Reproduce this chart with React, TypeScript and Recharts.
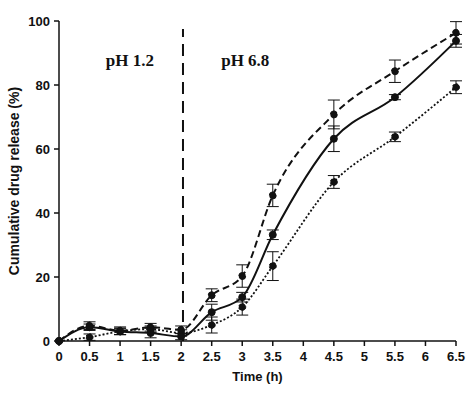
import React from 'react'
import {
  LineChart,
  Line,
  XAxis,
  YAxis,
  ErrorBar,
  ReferenceLine,
  ReferenceDot,
} from 'recharts'

const times = [0, 0.5, 1, 1.5, 2, 2.5, 3, 3.5, 4.5, 5.5, 6.5]
const xTicks = [0, 0.5, 1, 1.5, 2, 2.5, 3, 3.5, 4, 4.5, 5, 5.5, 6, 6.5]
const yTicks = [0, 20, 40, 60, 80, 100]

// dashed series (top)
const dashedVals = [0, 4.8, 3.2, 4.3, 3.5, 14.3, 20.3, 45.5, 70.8, 84.3, 96.3]
const dashedErr = [0, 1.2, 1.2, 1.2, 1.2, 2, 3.5, 3.5, 4.5, 3.5, 3.5]
// solid series (middle)
const solidVals = [0, 4.3, 3, 2.5, 1.4, 9, 13.7, 33.2, 63.2, 76.2, 93.8]
const solidErr = [0, 1, 1, 1.5, 1, 2.5, 1.5, 1.5, 4, 0.8, 2]
// dotted series (bottom)
const dottedVals = [0, 1.2, 3, 3.7, 2.5, 5, 10.6, 23.4, 49.7, 63.8, 79.3]
const dottedErr = [0, 1, 1, 1, 1, 2.5, 2.5, 4.5, 2, 1.5, 2]

const build = (vals: number[], errs: number[]) =>
  times.map((t, i) => ({ t, v: vals[i], e: errs[i] }))

const dashedData = build(dashedVals, dashedErr)
const solidData = build(solidVals, solidErr)
const dottedData = build(dottedVals, dottedErr)

const ink = '#111'
const tickStyle = { fill: ink, fontSize: 13, fontWeight: 700, fontFamily: 'Liberation Sans, Arial, sans-serif' }
const phStyle = { fill: ink, fontSize: 17, fontWeight: 700, fontFamily: 'Liberation Serif, DejaVu Serif, serif' }
const dot = { r: 3.5, fill: ink, stroke: ink, strokeWidth: 1 }

export default function App() {
  return (
    <div style={{ position: 'absolute', left: 0, top: 0, background: '#fff' }}>
      <LineChart
        width={474}
        height={395}
        margin={{ top: 21, right: 18, bottom: 10, left: 0 }}
      >
        <XAxis
          dataKey="t"
          type="number"
          domain={[0, 6.5]}
          ticks={xTicks}
          interval={0}
          allowDuplicatedCategory={false}
          height={44}
          stroke={ink}
          strokeWidth={1.5}
          tickSize={5}
          tick={tickStyle}
          tickMargin={6}
          label={{
            value: 'Time (h)',
            position: 'insideBottom',
            offset: 4,
            style: { ...tickStyle, fontSize: 13 },
          }}
        />
        <YAxis
          type="number"
          domain={[0, 100]}
          ticks={yTicks}
          width={59}
          stroke={ink}
          strokeWidth={1.5}
          tickSize={5}
          tick={tickStyle}
          tickMargin={4}
          label={{
            value: 'Cumulative drug release (%)',
            angle: -90,
            position: 'insideLeft',
            offset: 14,
            style: { ...tickStyle, fontSize: 14, textAnchor: 'middle' },
          }}
        />
        <ReferenceLine
          segment={[
            { x: 2.03, y: 0 },
            { x: 2.03, y: 97.5 },
          ]}
          stroke={ink}
          strokeWidth={2}
          strokeDasharray="12 7"
        />
        <ReferenceDot
          x={1.16}
          y={87.8}
          r={0}
          stroke="none"
          fill="none"
          label={{ value: 'pH 1.2', position: 'center', style: phStyle }}
        />
        <ReferenceDot
          x={3.05}
          y={87.8}
          r={0}
          stroke="none"
          fill="none"
          label={{ value: 'pH 6.8', position: 'center', style: phStyle }}
        />
        <Line
          data={dottedData}
          dataKey="v"
          type="monotone"
          stroke={ink}
          strokeWidth={1.8}
          strokeDasharray="2 2"
          dot={dot}
          isAnimationActive={false}
        >
          <ErrorBar dataKey="e" width={6} stroke={ink} strokeWidth={1} direction="y" />
        </Line>
        <Line
          data={solidData}
          dataKey="v"
          type="monotone"
          stroke={ink}
          strokeWidth={2}
          dot={dot}
          isAnimationActive={false}
        >
          <ErrorBar dataKey="e" width={6} stroke={ink} strokeWidth={1} direction="y" />
        </Line>
        <Line
          data={dashedData}
          dataKey="v"
          type="monotone"
          stroke={ink}
          strokeWidth={2}
          strokeDasharray="7 4"
          dot={dot}
          isAnimationActive={false}
        >
          <ErrorBar dataKey="e" width={6} stroke={ink} strokeWidth={1} direction="y" />
        </Line>
      </LineChart>
    </div>
  )
}
